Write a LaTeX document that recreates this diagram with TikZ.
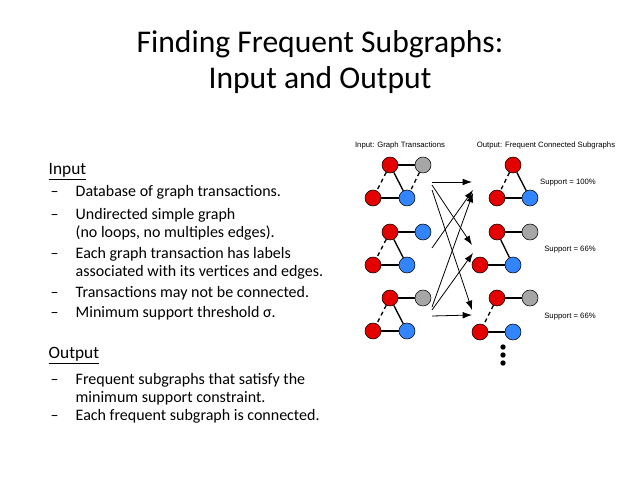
\documentclass[tikz,border=0pt]{standalone}
\usepackage{fontspec}
\usetikzlibrary{arrows.meta}
\setmainfont{Carlito}
\newfontfamily\arialf{Liberation Sans}
\newcommand{\dsh}{\makebox[25\mylen][l]{–}}
\newlength{\mylen}\setlength{\mylen}{0.75pt}
\begin{document}
\begin{tikzpicture}[x=0.75pt,y=-0.75pt,
 v/.style={circle,draw=black,line width=0.4pt,minimum size=12pt,inner sep=0pt},
 R/.style={v,fill=red!90!black},B/.style={v,fill=blue!60!cyan!80},G/.style={v,fill=gray!70},
 e/.style={line width=1pt},d/.style={line width=1pt,dash pattern=on 3pt off 2.5pt},
 ar/.style={-{Latex[length=7pt,width=5pt]},line width=0.6pt},
 hd/.style={font=\arialf\fontsize{5.8}{7}\selectfont},
 bl/.style={anchor=west,font=\fontsize{12}{13.5}\selectfont,align=left}]
\useasboundingbox (0,0) rectangle (638,478);
\node[font=\fontsize{23.7}{27}\selectfont,align=center] (title) at (320,62) {Finding Frequent Subgraphs:\\Input and Output};
\node[hd] (h1) at (400,145) {Input: Graph Transactions};
\node[hd] (h2) at (546,145) {Output: Frequent Connected Subgraphs};
% input graphs
\foreach \i/\y/\c in {1/165/G,2/232/B,3/298/G}{
 \node[R] (a\i) at (390,\y) {};
 \node[\c] (b\i) at (423,\y) {};
 \node[R] (c\i) at (373,\y+33) {};
 \node[B] (d\i) at (407,\y+33) {};
 \draw[e] (a\i)--(b\i); \draw[e] (a\i)--(d\i); \draw[e] (c\i)--(d\i); \draw[d] (a\i)--(c\i);
}
\draw[d] (b1)--(d1);
% output graphs
\node[R] (p1) at (513,165) {}; \node[R] (q1) at (497,198) {}; \node[B] (r1) at (530,198) {};
\draw[d] (p1)--(q1); \draw[e] (p1)--(r1); \draw[e] (q1)--(r1);
\node[R] (p2) at (497,232) {}; \node[G] (s2) at (530,232) {}; \node[R] (q2) at (480,265) {}; \node[B] (r2) at (513,265) {};
\draw[e] (p2)--(s2); \draw[e] (p2)--(r2); \draw[e] (q2)--(r2);
\node[R] (p3) at (497,298) {}; \node[G] (s3) at (530,298) {}; \node[R] (q3) at (480,332) {}; \node[B] (r3) at (513,332) {};
\draw[e] (p3)--(s3); \draw[d] (p3)--(q3); \draw[e] (q3)--(r3);
\foreach \y in {347,355,363} \fill (503,\y) circle (2pt);
\node[hd] (s1l) at (568,183) {Support = 100\%};
\node[hd] (s2l) at (570,250) {Support = 66\%};
\node[hd] (s3l) at (570,317) {Support = 66\%};
% arrows
\coordinate (o1a) at (432,182); \coordinate (o1b) at (432,185); \coordinate (o1c) at (432,190);
\coordinate (o2) at (432,248);
\coordinate (o3a) at (432,307); \coordinate (o3b) at (432,310); \coordinate (o3c) at (432,316);
\coordinate (t1a) at (472,182); \coordinate (t1b) at (473,190); \coordinate (t1c) at (473,193);
\coordinate (t2a) at (472,245); \coordinate (t2b) at (473,253);
\coordinate (t3a) at (472,310); \coordinate (t3b) at (472,315);
\draw[ar] (o1a)--(t1a); \draw[ar] (o1b)--(t2a); \draw[ar] (o1c)--(t3a);
\draw[ar] (o2)--(t1b);
\draw[ar] (o3a)--(t1c); \draw[ar] (o3b)--(t2b); \draw[ar] (o3c)--(t3b);
% left text
\node[bl,font=\fontsize{13}{14}\selectfont] (in) at (44,172) {\underline{Input}};
\node[bl] (i1) at (46,192) {\dsh Database of graph transactions.};
\node[bl] (i2) at (46,224) {\dsh Undirected simple graph\\\hspace*{25\mylen}(no loops, no multiples edges).};
\node[bl] (i3) at (46,263) {\dsh Each graph transaction has labels\\\hspace*{25\mylen}associated with its vertices and edges.};
\node[bl] (i4) at (46,293) {\dsh Transactions may not be connected.};
\node[bl] (i5) at (46,313) {\dsh Minimum support threshold σ.};
\node[bl,font=\fontsize{13}{14}\selectfont] (out) at (44,356) {\underline{Output}};
\node[bl] (o1) at (46,389) {\dsh Frequent subgraphs that satisfy the\\\hspace*{25\mylen}minimum support constraint.};
\node[bl] (o2t) at (46,416) {\dsh Each frequent subgraph is connected.};
\end{tikzpicture}
\end{document}
